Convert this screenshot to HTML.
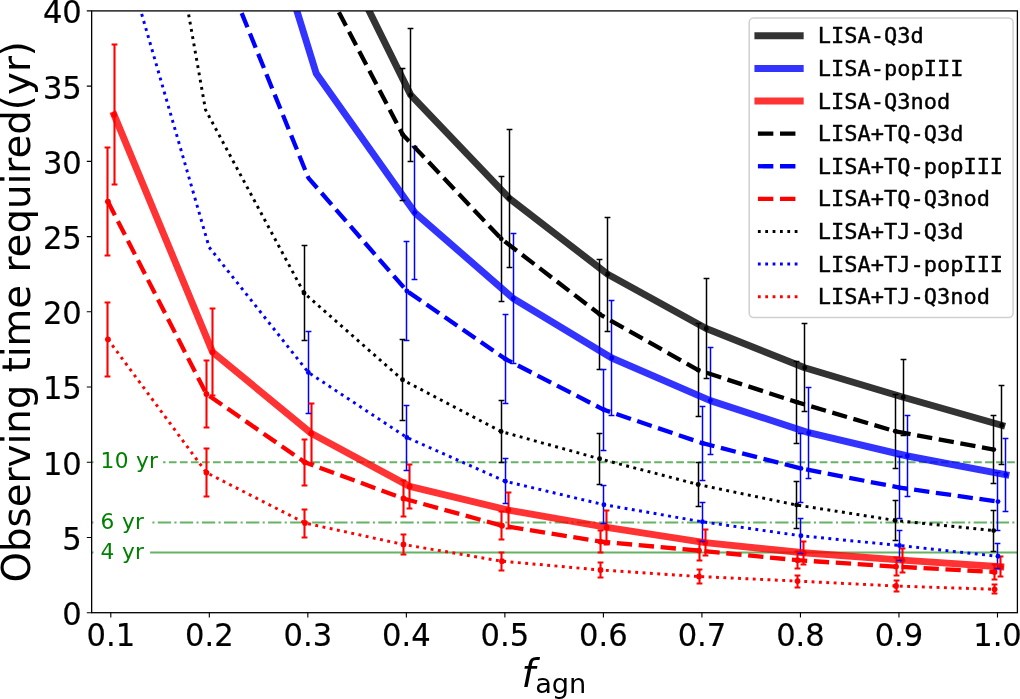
<!DOCTYPE html>
<html lang="en">
<head>
<meta charset="utf-8">
<title>Observing time required vs f_agn</title>
<style>
html,body{margin:0;padding:0;background:#fff;}
body{width:1020px;height:699px;overflow:hidden;}
svg{display:block;}
</style>
</head>
<body>
<svg width="1020" height="699" viewBox="0 0 1020 699">
<defs><clipPath id="ax"><rect x="91.65" y="10.9" width="925.75" height="601.8"/></clipPath></defs>
<rect width="1020" height="699" fill="#fff"/>
<g clip-path="url(#ax)">
<path d="M91.65 462.25H1017.4" stroke="#008000" stroke-opacity="0.6" stroke-width="2.08" fill="none" stroke-dasharray="7.7 3.33"/>
<path d="M91.65 522.43H1017.4" stroke="#008000" stroke-opacity="0.6" stroke-width="2.08" fill="none" stroke-dasharray="13.31 3.33 2.08 3.33"/>
<path d="M91.65 552.52H1017.4" stroke="#008000" stroke-opacity="0.6" stroke-width="2.08" fill="none"/>
</g>
<g clip-path="url(#ax)" fill="none">
<path d="M410.5 28.2V161.6M509.5 129.1V267.3M607.5 217.3V331.3M706.5 278.3V378.7M804.5 323.9V411.5M903.5 359.3V435.3M1001.5 385.8V464.8" stroke="#000" stroke-width="1.5"/>
<path d="M414.5 146V279.2M513.5 233.2V363.8M611.5 300.6V415.4M710.5 347.1V454.1M808.5 387.4V478M907.5 415.4V496.6M1005.5 438.3V511.1" stroke="#00f" stroke-width="1.5"/>
<path d="M114.5 44.7V184.9M212.5 308.7V395.5M311.5 403.6V463M409.5 464.3V508.5M508.5 492.1V528.1M606.5 510.8V544M705.5 529.6V555.6M803.5 541V564.6M902.5 548.1V572.1M1000.5 556.6V576.8" stroke="#f00" stroke-width="2.08"/>
<path d="M402.5 68.6V200.6M501.5 176.2V301.2M599.5 259.6V369M698.5 323.3V416.9M796.5 361.1V443.1M895.5 394V468.6M993.5 415.9V483.3" stroke="#000" stroke-width="1.5"/>
<path d="M406.5 241.5V340.5M505.5 314.9V403.1M603.5 369.5V450.1M702.5 406.1V480.3M800.5 433.9V502.9M899.5 456.7V518.5M997.5 472.3V530.9" stroke="#00f" stroke-width="1.5"/>
<path d="M107.5 147.8V255.4M206.5 360.2V427.8M304.5 439.4V485.2M403.5 480.9V516.1M501.5 511.5V539.9M600.5 530.3V552.9M699.5 540.5V560.7M797.5 551.7V568.7M896.5 557.6V575.6M994.5 564.2V579.8" stroke="#f00" stroke-width="2.08"/>
<path d="M304.5 245.4V340.6M402.5 339.2V420.4M501.5 400.4V462.6M599.5 433V484.6M698.5 462.6V506.4M796.5 481.2V528.8M895.5 500.4V540.4M993.5 510V551.2" stroke="#000" stroke-width="1.5"/>
<path d="M308.5 331.5V413.3M406.5 405V470M505.5 458.8V503.8M603.5 485.9V523.5M702.5 502.3V541.3M800.5 518.5V553.1M899.5 530.6V560.4M997.5 543.7V568.9" stroke="#00f" stroke-width="1.5"/>
<path d="M107.5 302.4V376.2M206.5 448.3V496.9M304.5 509V537M403.5 534.4V554.6M501.5 552.4V570M600.5 562.5V577.5M699.5 569.7V583.3M797.5 575.1V587.1M896.5 580.2V591.8M994.5 584.7V593.9" stroke="#f00" stroke-width="2.08"/>
<path d="M360.11 -7.28 L410.66 94.9 L509.18 198.2 L607.7 274.3 L706.22 328.5 L804.74 367.7 L903.26 397.3 L1001.78 425.3" stroke="#000" stroke-opacity="0.8" stroke-width="6.94" stroke-linejoin="round" stroke-linecap="square"/>
<circle cx="410.66" cy="94.9" r="2.45" fill="#000"/>
<circle cx="509.18" cy="198.2" r="2.45" fill="#000"/>
<circle cx="607.7" cy="274.3" r="2.45" fill="#000"/>
<circle cx="706.22" cy="328.5" r="2.45" fill="#000"/>
<circle cx="804.74" cy="367.7" r="2.45" fill="#000"/>
<circle cx="903.26" cy="397.3" r="2.45" fill="#000"/>
<circle cx="1001.78" cy="425.3" r="2.45" fill="#000"/>
<path d="M407.6 28.5H413.4M407.6 161.5H413.4M506.6 129.5H512.4M506.6 267.5H512.4M604.6 217.5H610.4M604.6 331.5H610.4M703.6 278.5H709.4M703.6 378.5H709.4M801.6 323.5H807.4M801.6 411.5H807.4M900.6 359.5H906.4M900.6 435.5H906.4M998.6 385.5H1004.4M998.6 464.5H1004.4" stroke="#000" stroke-width="1.5"/>
<path d="M291.28 -7.28 L316.24 73.5 L414.76 212.6 L513.28 298.5 L611.8 358 L710.32 400.6 L808.84 432.7 L907.36 456 L1005.88 474.7" stroke="#00f" stroke-opacity="0.8" stroke-width="6.94" stroke-linejoin="round" stroke-linecap="square"/>
<circle cx="414.76" cy="212.6" r="2.45" fill="#00f"/>
<circle cx="513.28" cy="298.5" r="2.45" fill="#00f"/>
<circle cx="611.8" cy="358" r="2.45" fill="#00f"/>
<circle cx="710.32" cy="400.6" r="2.45" fill="#00f"/>
<circle cx="808.84" cy="432.7" r="2.45" fill="#00f"/>
<circle cx="907.36" cy="456" r="2.45" fill="#00f"/>
<circle cx="1005.88" cy="474.7" r="2.45" fill="#00f"/>
<path d="M411.6 146.5H417.4M411.6 279.5H417.4M510.6 233.5H516.4M510.6 363.5H516.4M608.6 300.5H614.4M608.6 415.5H614.4M707.6 347.5H713.4M707.6 454.5H713.4M805.6 387.5H811.4M805.6 478.5H811.4M904.6 415.5H910.4M904.6 496.5H910.4M1002.6 438.5H1008.4M1002.6 511.5H1008.4" stroke="#00f" stroke-width="1.5"/>
<path d="M114.1 114.8 L212.62 352.1 L311.14 433.3 L409.66 486.4 L508.18 510.1 L606.7 527.4 L705.22 542.6 L803.74 552.8 L902.26 560.1 L1000.78 566.7" stroke="#f00" stroke-opacity="0.8" stroke-width="6.94" stroke-linejoin="round" stroke-linecap="square"/>
<circle cx="114.1" cy="114.8" r="2.9" fill="#f00"/>
<circle cx="212.62" cy="352.1" r="2.9" fill="#f00"/>
<circle cx="311.14" cy="433.3" r="2.9" fill="#f00"/>
<circle cx="409.66" cy="486.4" r="2.9" fill="#f00"/>
<circle cx="508.18" cy="510.1" r="2.9" fill="#f00"/>
<circle cx="606.7" cy="527.4" r="2.9" fill="#f00"/>
<circle cx="705.22" cy="542.6" r="2.9" fill="#f00"/>
<circle cx="803.74" cy="552.8" r="2.9" fill="#f00"/>
<circle cx="902.26" cy="560.1" r="2.9" fill="#f00"/>
<circle cx="1000.78" cy="566.7" r="2.9" fill="#f00"/>
<path d="M111.6 44.5H117.4M111.6 184.5H117.4M209.6 308.5H215.4M209.6 395.5H215.4M308.6 403.5H314.4M308.6 463.5H314.4M406.6 464.5H412.4M406.6 508.5H412.4M505.6 492.5H511.4M505.6 528.5H511.4M603.6 510.5H609.4M603.6 544.5H609.4M702.6 529.5H708.4M702.6 555.5H708.4M800.6 541.5H806.4M800.6 564.5H806.4M899.6 548.5H905.4M899.6 572.5H905.4M997.6 556.5H1003.4M997.6 576.5H1003.4" stroke="#f00" stroke-width="2.08"/>
<path d="M328.73 -7.28 L402.66 134.6 L501.18 238.7 L599.7 314.3 L698.22 370.1 L796.74 402.1 L895.26 431.3 L993.78 449.6" stroke="#000" stroke-width="4.3" stroke-linejoin="round" stroke-dasharray="15.34 6.64" stroke-dashoffset="0"/>
<circle cx="402.66" cy="134.6" r="2.45" fill="#000"/>
<circle cx="501.18" cy="238.7" r="2.45" fill="#000"/>
<circle cx="599.7" cy="314.3" r="2.45" fill="#000"/>
<circle cx="698.22" cy="370.1" r="2.45" fill="#000"/>
<circle cx="796.74" cy="402.1" r="2.45" fill="#000"/>
<circle cx="895.26" cy="431.3" r="2.45" fill="#000"/>
<circle cx="993.78" cy="449.6" r="2.45" fill="#000"/>
<path d="M399.6 68.5H405.4M399.6 200.5H405.4M498.6 176.5H504.4M498.6 301.5H504.4M596.6 259.5H602.4M596.6 369.5H602.4M695.6 323.5H701.4M695.6 416.5H701.4M793.6 361.5H799.4M793.6 443.5H799.4M892.6 394.5H898.4M892.6 468.5H898.4M990.6 415.5H996.4M990.6 483.5H996.4" stroke="#000" stroke-width="1.5"/>
<path d="M233.44 -7.28 L308.34 177.8 L406.86 291 L505.38 359 L603.9 409.8 L702.42 443.2 L800.94 468.4 L899.46 487.6 L997.98 501.6" stroke="#00f" stroke-width="4.3" stroke-linejoin="round" stroke-dasharray="15.34 6.64" stroke-dashoffset="0"/>
<circle cx="406.86" cy="291" r="2.45" fill="#00f"/>
<circle cx="505.38" cy="359" r="2.45" fill="#00f"/>
<circle cx="603.9" cy="409.8" r="2.45" fill="#00f"/>
<circle cx="702.42" cy="443.2" r="2.45" fill="#00f"/>
<circle cx="800.94" cy="468.4" r="2.45" fill="#00f"/>
<circle cx="899.46" cy="487.6" r="2.45" fill="#00f"/>
<circle cx="997.98" cy="501.6" r="2.45" fill="#00f"/>
<path d="M403.6 241.5H409.4M403.6 340.5H409.4M502.6 314.5H508.4M502.6 403.5H508.4M600.6 369.5H606.4M600.6 450.5H606.4M699.6 406.5H705.4M699.6 480.5H705.4M797.6 433.5H803.4M797.6 502.5H803.4M896.6 456.5H902.4M896.6 518.5H902.4M994.6 472.5H1000.4M994.6 530.5H1000.4" stroke="#00f" stroke-width="1.5"/>
<path d="M107.9 201.6 L206.42 394 L304.94 462.3 L403.46 498.5 L501.98 525.7 L600.5 541.6 L699.02 550.6 L797.54 560.2 L896.06 566.6 L994.58 572" stroke="#f00" stroke-width="4.3" stroke-linejoin="round" stroke-dasharray="15.34 6.64" stroke-dashoffset="0"/>
<circle cx="107.9" cy="201.6" r="2.9" fill="#f00"/>
<circle cx="206.42" cy="394" r="2.9" fill="#f00"/>
<circle cx="304.94" cy="462.3" r="2.9" fill="#f00"/>
<circle cx="403.46" cy="498.5" r="2.9" fill="#f00"/>
<circle cx="501.98" cy="525.7" r="2.9" fill="#f00"/>
<circle cx="600.5" cy="541.6" r="2.9" fill="#f00"/>
<circle cx="699.02" cy="550.6" r="2.9" fill="#f00"/>
<circle cx="797.54" cy="560.2" r="2.9" fill="#f00"/>
<circle cx="896.06" cy="566.6" r="2.9" fill="#f00"/>
<circle cx="994.58" cy="572" r="2.9" fill="#f00"/>
<path d="M104.6 147.5H110.4M104.6 255.5H110.4M203.6 360.5H209.4M203.6 427.5H209.4M301.6 439.5H307.4M301.6 485.5H307.4M400.6 480.5H406.4M400.6 516.5H406.4M498.6 511.5H504.4M498.6 539.5H504.4M597.6 530.5H603.4M597.6 552.5H603.4M696.6 540.5H702.4M696.6 560.5H702.4M794.6 551.5H800.4M794.6 568.5H800.4M893.6 557.5H899.4M893.6 575.5H899.4M991.6 564.5H997.4M991.6 579.5H997.4" stroke="#f00" stroke-width="2.08"/>
<path d="M184.78 -7.28 L205.52 109.8 L304.04 293 L402.56 379.8 L501.08 431.5 L599.6 458.8 L698.12 484.5 L796.64 505 L895.16 520.4 L993.68 530.6" stroke="#000" stroke-width="2.95" stroke-linejoin="round" stroke-dasharray="2.9 4.46" stroke-dashoffset="0"/>
<circle cx="304.04" cy="293" r="2.45" fill="#000"/>
<circle cx="402.56" cy="379.8" r="2.45" fill="#000"/>
<circle cx="501.08" cy="431.5" r="2.45" fill="#000"/>
<circle cx="599.6" cy="458.8" r="2.45" fill="#000"/>
<circle cx="698.12" cy="484.5" r="2.45" fill="#000"/>
<circle cx="796.64" cy="505" r="2.45" fill="#000"/>
<circle cx="895.16" cy="520.4" r="2.45" fill="#000"/>
<circle cx="993.68" cy="530.6" r="2.45" fill="#000"/>
<path d="M301.6 245.5H307.4M301.6 340.5H307.4M399.6 339.5H405.4M399.6 420.5H405.4M498.6 400.5H504.4M498.6 462.5H504.4M596.6 433.5H602.4M596.6 484.5H602.4M695.6 462.5H701.4M695.6 506.5H701.4M793.6 481.5H799.4M793.6 528.5H799.4M892.6 500.5H898.4M892.6 540.5H898.4M990.6 510.5H996.4M990.6 551.5H996.4" stroke="#000" stroke-width="1.5"/>
<path d="M135.54 -7.28 L209.12 247.2 L308.34 372.4 L406.86 437.5 L505.38 481.3 L603.9 504.7 L702.42 521.8 L800.94 535.8 L899.46 545.5 L997.98 556.3" stroke="#00f" stroke-width="2.95" stroke-linejoin="round" stroke-dasharray="2.9 4.46" stroke-dashoffset="0"/>
<circle cx="308.34" cy="372.4" r="2.45" fill="#00f"/>
<circle cx="406.86" cy="437.5" r="2.45" fill="#00f"/>
<circle cx="505.38" cy="481.3" r="2.45" fill="#00f"/>
<circle cx="603.9" cy="504.7" r="2.45" fill="#00f"/>
<circle cx="702.42" cy="521.8" r="2.45" fill="#00f"/>
<circle cx="800.94" cy="535.8" r="2.45" fill="#00f"/>
<circle cx="899.46" cy="545.5" r="2.45" fill="#00f"/>
<circle cx="997.98" cy="556.3" r="2.45" fill="#00f"/>
<path d="M305.6 331.5H311.4M305.6 413.5H311.4M403.6 405.5H409.4M403.6 470.5H409.4M502.6 458.5H508.4M502.6 503.5H508.4M600.6 485.5H606.4M600.6 523.5H606.4M699.6 502.5H705.4M699.6 541.5H705.4M797.6 518.5H803.4M797.6 553.5H803.4M896.6 530.5H902.4M896.6 560.5H902.4M994.6 543.5H1000.4M994.6 568.5H1000.4" stroke="#00f" stroke-width="1.5"/>
<path d="M107.9 339.3 L206.42 472.6 L304.94 523 L403.46 544.5 L501.98 561.2 L600.5 570 L699.02 576.5 L797.54 581.1 L896.06 586 L994.58 589.3" stroke="#f00" stroke-width="2.95" stroke-linejoin="round" stroke-dasharray="2.9 4.46" stroke-dashoffset="0"/>
<circle cx="107.9" cy="339.3" r="2.9" fill="#f00"/>
<circle cx="206.42" cy="472.6" r="2.9" fill="#f00"/>
<circle cx="304.94" cy="523" r="2.9" fill="#f00"/>
<circle cx="403.46" cy="544.5" r="2.9" fill="#f00"/>
<circle cx="501.98" cy="561.2" r="2.9" fill="#f00"/>
<circle cx="600.5" cy="570" r="2.9" fill="#f00"/>
<circle cx="699.02" cy="576.5" r="2.9" fill="#f00"/>
<circle cx="797.54" cy="581.1" r="2.9" fill="#f00"/>
<circle cx="896.06" cy="586" r="2.9" fill="#f00"/>
<circle cx="994.58" cy="589.3" r="2.9" fill="#f00"/>
<path d="M104.6 302.5H110.4M104.6 376.5H110.4M203.6 448.5H209.4M203.6 496.5H209.4M301.6 509.5H307.4M301.6 537.5H307.4M400.6 534.5H406.4M400.6 554.5H406.4M498.6 552.5H504.4M498.6 570.5H504.4M597.6 562.5H603.4M597.6 577.5H603.4M696.6 569.5H702.4M696.6 583.5H702.4M794.6 575.5H800.4M794.6 587.5H800.4M893.6 580.5H899.4M893.6 591.5H899.4M991.6 584.5H997.4M991.6 593.5H997.4" stroke="#f00" stroke-width="2.08"/>
</g>
<rect x="93.4" y="442.75" width="69.7" height="39" fill="#fff"/>
<text x="100.6" y="468.35" letter-spacing="0.3" font-family="'DejaVu Sans','Liberation Sans',sans-serif" font-size="21.7" fill="#008000">10 yr</text>
<rect x="93.4" y="502.93" width="58" height="39" fill="#fff"/>
<text x="100.6" y="528.53" letter-spacing="0.3" font-family="'DejaVu Sans','Liberation Sans',sans-serif" font-size="21.7" fill="#008000">6 yr</text>
<rect x="93.4" y="533.02" width="56.7" height="39" fill="#fff"/>
<text x="100.6" y="558.62" letter-spacing="0.3" font-family="'DejaVu Sans','Liberation Sans',sans-serif" font-size="21.7" fill="#008000">4 yr</text>
<rect x="91.65" y="10.9" width="925.75" height="601.8" fill="none" stroke="#000" stroke-width="1.3"/>
<path d="M110.8 612.7v4.86M209.32 612.7v4.86M307.84 612.7v4.86M406.36 612.7v4.86M504.88 612.7v4.86M603.4 612.7v4.86M701.92 612.7v4.86M800.44 612.7v4.86M898.96 612.7v4.86M997.48 612.7v4.86M91.65 612.7h-4.86M91.65 537.48h-4.86M91.65 462.25h-4.86M91.65 387.03h-4.86M91.65 311.8h-4.86M91.65 236.58h-4.86M91.65 161.35h-4.86M91.65 86.12h-4.86M91.65 10.9h-4.86" stroke="#000" stroke-width="1.11" fill="none"/>
<g font-family="'DejaVu Sans','Liberation Sans',sans-serif" font-size="30.56" fill="#000" stroke="#000" stroke-width="0.2">
<text transform="translate(110.8 634.4) scale(1 1.07)" y="11.14" text-anchor="middle">0.1</text>
<text transform="translate(209.32 634.4) scale(1 1.07)" y="11.14" text-anchor="middle">0.2</text>
<text transform="translate(307.84 634.4) scale(1 1.07)" y="11.14" text-anchor="middle">0.3</text>
<text transform="translate(406.36 634.4) scale(1 1.07)" y="11.14" text-anchor="middle">0.4</text>
<text transform="translate(504.88 634.4) scale(1 1.07)" y="11.14" text-anchor="middle">0.5</text>
<text transform="translate(603.4 634.4) scale(1 1.07)" y="11.14" text-anchor="middle">0.6</text>
<text transform="translate(701.92 634.4) scale(1 1.07)" y="11.14" text-anchor="middle">0.7</text>
<text transform="translate(800.44 634.4) scale(1 1.07)" y="11.14" text-anchor="middle">0.8</text>
<text transform="translate(898.96 634.4) scale(1 1.07)" y="11.14" text-anchor="middle">0.9</text>
<text transform="translate(997.48 634.4) scale(1 1.07)" y="11.14" text-anchor="middle">1.0</text>
<text transform="translate(81.8 613.2) scale(1 1.07)" y="11.14" text-anchor="end">0</text>
<text transform="translate(81.8 537.98) scale(1 1.07)" y="11.14" text-anchor="end">5</text>
<text transform="translate(81.8 462.75) scale(1 1.07)" y="11.14" text-anchor="end">10</text>
<text transform="translate(81.8 387.53) scale(1 1.07)" y="11.14" text-anchor="end">15</text>
<text transform="translate(81.8 312.3) scale(1 1.07)" y="11.14" text-anchor="end">20</text>
<text transform="translate(81.8 237.08) scale(1 1.07)" y="11.14" text-anchor="end">25</text>
<text transform="translate(81.8 161.85) scale(1 1.07)" y="11.14" text-anchor="end">30</text>
<text transform="translate(81.8 86.62) scale(1 1.07)" y="11.14" text-anchor="end">35</text>
<text transform="translate(81.8 11.4) scale(1 1.07)" y="11.14" text-anchor="end">40</text>
</g>
<text font-family="'DejaVu Sans','Liberation Sans',sans-serif" font-size="38.75" fill="#000" text-anchor="middle" transform="translate(29.6 311.8) rotate(-90)">Observing time required(yr)</text>
<text font-family="'DejaVu Sans','Liberation Sans',sans-serif" font-size="38.75" fill="#000" x="521.5" y="686.7"><tspan font-style="italic">f</tspan><tspan font-size="27.22" dy="5.8">agn</tspan></text>
<rect x="749.2" y="17.9" width="263.9" height="299.5" rx="4.4" fill="#fff" fill-opacity="0.8" stroke="#d0d0d0" stroke-width="1.5"/>
<path d="M757.9 35.8H800.2" stroke="#000" stroke-opacity="0.8" stroke-width="6.94" stroke-linecap="square" fill="none"/>
<text font-family="'DejaVu Sans Mono','Liberation Mono',monospace" font-size="22" fill="#000" stroke="#000" stroke-width="0.4" x="817.7" y="43.4">LISA-Q3d</text>
<path d="M757.9 68.41H800.2" stroke="#00f" stroke-opacity="0.8" stroke-width="6.94" stroke-linecap="square" fill="none"/>
<text font-family="'DejaVu Sans Mono','Liberation Mono',monospace" font-size="22" fill="#000" stroke="#000" stroke-width="0.4" x="817.7" y="76.01">LISA-popIII</text>
<path d="M757.9 101.02H800.2" stroke="#f00" stroke-opacity="0.8" stroke-width="6.94" stroke-linecap="square" fill="none"/>
<text font-family="'DejaVu Sans Mono','Liberation Mono',monospace" font-size="22" fill="#000" stroke="#000" stroke-width="0.4" x="817.7" y="108.62">LISA-Q3nod</text>
<path d="M757.9 133.63H800.2" stroke="#000" stroke-width="4.3" stroke-dasharray="15.43 6.67" fill="none"/>
<text font-family="'DejaVu Sans Mono','Liberation Mono',monospace" font-size="22" fill="#000" stroke="#000" stroke-width="0.4" x="817.7" y="141.23">LISA+TQ-Q3d</text>
<path d="M757.9 166.24H800.2" stroke="#00f" stroke-width="4.3" stroke-dasharray="15.43 6.67" fill="none"/>
<text font-family="'DejaVu Sans Mono','Liberation Mono',monospace" font-size="22" fill="#000" stroke="#000" stroke-width="0.4" x="817.7" y="173.84">LISA+TQ-popIII</text>
<path d="M757.9 198.85H800.2" stroke="#f00" stroke-width="4.3" stroke-dasharray="15.43 6.67" fill="none"/>
<text font-family="'DejaVu Sans Mono','Liberation Mono',monospace" font-size="22" fill="#000" stroke="#000" stroke-width="0.4" x="817.7" y="206.45">LISA+TQ-Q3nod</text>
<path d="M757.9 231.46H800.2" stroke="#000" stroke-width="2.95" stroke-dasharray="2.78 4.58" fill="none"/>
<text font-family="'DejaVu Sans Mono','Liberation Mono',monospace" font-size="22" fill="#000" stroke="#000" stroke-width="0.4" x="817.7" y="239.06">LISA+TJ-Q3d</text>
<path d="M757.9 264.07H800.2" stroke="#00f" stroke-width="2.95" stroke-dasharray="2.78 4.58" fill="none"/>
<text font-family="'DejaVu Sans Mono','Liberation Mono',monospace" font-size="22" fill="#000" stroke="#000" stroke-width="0.4" x="817.7" y="271.67">LISA+TJ-popIII</text>
<path d="M757.9 296.68H800.2" stroke="#f00" stroke-width="2.95" stroke-dasharray="2.78 4.58" fill="none"/>
<text font-family="'DejaVu Sans Mono','Liberation Mono',monospace" font-size="22" fill="#000" stroke="#000" stroke-width="0.4" x="817.7" y="304.28">LISA+TJ-Q3nod</text>
</svg>
</body>
</html>
